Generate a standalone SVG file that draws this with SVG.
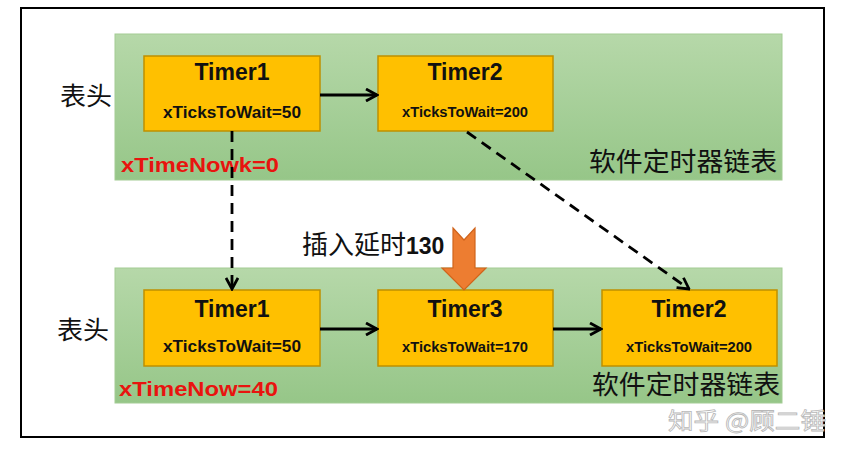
<svg xmlns="http://www.w3.org/2000/svg" width="850" height="449" viewBox="0 0 850 449">
<defs>
<linearGradient id="g" x1="0" y1="0" x2="0" y2="1">
<stop offset="0" stop-color="#b6d8a9"/>
<stop offset="1" stop-color="#96c688"/>
</linearGradient>
<marker id="ah" viewBox="0 0 14 14" refX="12.5" refY="7" markerWidth="14" markerHeight="14" markerUnits="userSpaceOnUse" orient="auto">
<path d="M1.5,1 L12.5,7 L1.5,13" fill="none" stroke="#000" stroke-width="2.8" stroke-linejoin="miter"/>
</marker>
<style>
.panel{fill:url(#g);stroke:#a3cc94;stroke-width:1}
.box{fill:#ffc000;stroke:#bf9000;stroke-width:1.5}
.t{font-family:"Liberation Sans",Arial,sans-serif;font-weight:bold;fill:#111;text-anchor:middle}
.title{font-size:23px}
.big{font-size:16px}
.sm{font-size:14px}
.red{font-family:"Liberation Sans",Arial,sans-serif;font-weight:bold;font-size:21px;fill:#e8140f}
.cn{font-family:"Noto Sans CJK SC","Noto Sans",sans-serif;fill:#111}
.solid{stroke:#000;stroke-width:2.8;fill:none}
.dash{stroke:#000;stroke-width:2.8;fill:none;stroke-dasharray:11,7}
</style>
</defs>
<rect x="21" y="8" width="803" height="429" fill="#fff" stroke="#000" stroke-width="2"/>

<g id="panel-top">
<rect class="panel" x="115" y="34" width="667" height="146"/>
<text class="cn" x="589" y="171" font-size="26.5" textLength="188" lengthAdjust="spacingAndGlyphs">软件定时器链表</text>
<text class="red" x="121" y="172" textLength="158" lengthAdjust="spacingAndGlyphs">xTimeNowk=0</text>
</g>
<g id="panel-bottom">
<rect class="panel" x="115" y="268" width="667" height="135"/>
<text class="cn" x="592" y="394" font-size="26" textLength="188" lengthAdjust="spacingAndGlyphs">软件定时器链表</text>
<text class="red" x="119" y="396" textLength="159" lengthAdjust="spacingAndGlyphs">xTimeNow=40</text>
</g>

<g id="head-top"><text class="cn" x="60" y="105" font-size="25" textLength="52" lengthAdjust="spacingAndGlyphs">表头</text></g>
<g id="head-bottom"><text class="cn" x="57" y="339" font-size="25" textLength="52" lengthAdjust="spacingAndGlyphs">表头</text></g>

<g id="timer1-top">
<rect class="box" x="144" y="56" width="176" height="75"/>
<text class="t title" x="232" y="80">Timer1</text>
<text class="t big" x="232" y="118" textLength="138" lengthAdjust="spacingAndGlyphs">xTicksToWait=50</text>
</g>
<g id="timer2-top">
<rect class="box" x="378" y="56" width="175" height="75"/>
<text class="t title" x="465" y="80">Timer2</text>
<text class="t sm" x="465" y="117" textLength="126" lengthAdjust="spacingAndGlyphs">xTicksToWait=200</text>
</g>
<g id="timer1-bottom">
<rect class="box" x="144" y="290" width="176" height="76"/>
<text class="t title" x="232" y="317">Timer1</text>
<text class="t big" x="232" y="352" textLength="138" lengthAdjust="spacingAndGlyphs">xTicksToWait=50</text>
</g>
<g id="timer3-bottom">
<rect class="box" x="378" y="290" width="175" height="76"/>
<text class="t title" x="465" y="317">Timer3</text>
<text class="t sm" x="465" y="352" textLength="126" lengthAdjust="spacingAndGlyphs">xTicksToWait=170</text>
</g>
<g id="timer2-bottom">
<rect class="box" x="602" y="290" width="175" height="76"/>
<text class="t title" x="689" y="317">Timer2</text>
<text class="t sm" x="689" y="352" textLength="126" lengthAdjust="spacingAndGlyphs">xTicksToWait=200</text>
</g>

<g id="insert">
<text x="302" y="254" font-size="26" class="cn">插入延时<tspan font-family="Liberation Sans,Arial,sans-serif" font-weight="bold" font-size="23">130</tspan></text>
<path d="M453,228 L464,240 L475,228 L475,268 L486,268 L464,290 L442,268 L453,268 Z" fill="#ed7d31" stroke="#d0641c" stroke-width="1.2"/>
</g>

<g id="connectors">
<line class="solid" x1="320" y1="95" x2="377" y2="95" marker-end="url(#ah)"/>
<line class="solid" x1="320" y1="329" x2="377" y2="329" marker-end="url(#ah)"/>
<line class="solid" x1="553" y1="329" x2="601" y2="329" marker-end="url(#ah)"/>
<line class="dash" x1="232" y1="131" x2="232" y2="289" marker-end="url(#ah)"/>
<line class="dash" x1="467" y1="132" x2="689" y2="289" marker-end="url(#ah)"/>
</g>

<g id="watermark">
<text x="668" y="429" font-family="Noto Sans CJK SC,sans-serif" font-size="23" fill="#ffffff" stroke="#b8b8b8" stroke-width="0.8" textLength="158" lengthAdjust="spacingAndGlyphs">知乎 @顾二锤</text>
</g>
</svg>
